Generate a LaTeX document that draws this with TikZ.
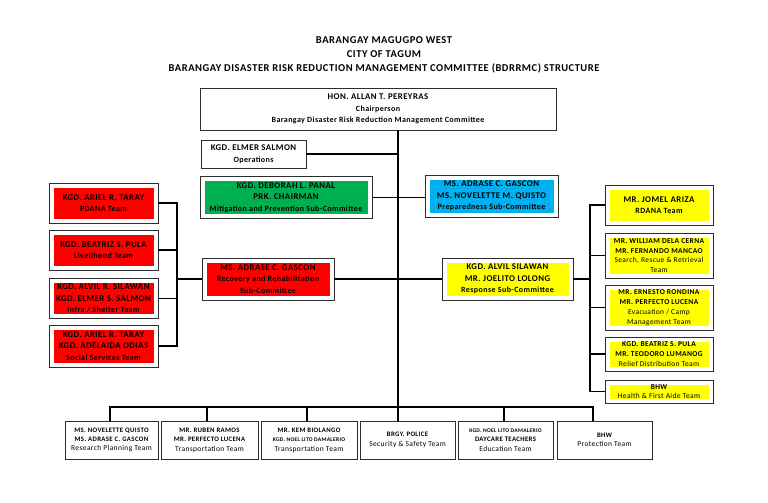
\documentclass[tikz,border=0pt]{standalone}
\usepackage{fontspec}
\setmainfont{Carlito}[LetterSpace=5]
\usetikzlibrary{positioning}
\definecolor{BR}{RGB}{255,0,0}
\definecolor{BG}{RGB}{0,176,80}
\definecolor{BB}{RGB}{0,176,240}
\definecolor{BY}{RGB}{255,255,0}
\definecolor{DG}{RGB}{45,45,45}
\newcommand{\rolesz}{\fontsize{8}{11.5}\selectfont}
\newcommand{\teamsz}{\fontsize{7.5}{9.8}\selectfont\mdseries}
\newcommand{\tinysz}{\fontsize{5.6}{9.4}\selectfont}

\begin{document}
\begin{tikzpicture}[x=1pt, y=-1pt,
  wbox/.style={draw=DG, line width=0.8pt, fill=white, align=center, inner sep=0.5pt,
               font=\fontsize{8.8}{11.5}\selectfont\bfseries},
  cbox/.style={wbox, path picture={
                 \fill[#1] ([shift={(4.5pt,4.5pt)}]path picture bounding box.south west)
                   rectangle ([shift={(-4.5pt,-4.5pt)}]path picture bounding box.north east);}},
  lbox/.style={cbox=BR, minimum width=109pt, minimum height=40pt},
  rbox/.style={cbox=BY, minimum width=108pt,
               font=\fontsize{7.5}{9.8}\selectfont\bfseries},
  bbox/.style={wbox, minimum height=38pt,
               font=\fontsize{6.8}{9.4}\selectfont\bfseries},
  conn/.style={draw=black, line width=1.7pt},
  ttl/.style={align=center, font=\fontsize{10.5}{14}\selectfont\bfseries}
]
\useasboundingbox (0,0) rectangle (768,503);

% Title
\node[ttl] (title) at (384,55) {BARANGAY MAGUGPO WEST\\CITY OF TAGUM\\
  BARANGAY DISASTER RISK REDUCTION MANAGEMENT COMMITTEE (BDRRMC) STRUCTURE};

% Chairperson and operations
\node[wbox, minimum width=356pt, minimum height=42pt] (chair) at (378,109)
  {HON. ALLAN T. PEREYRAS\\\rolesz Chairperson\\\rolesz Barangay Disaster Risk Reduction Management Committee};
\node[wbox, minimum width=105pt, minimum height=28pt] (ops) at (253.5,154)
  {KGD. ELMER SALMON\\\rolesz Operations};

% Sub-committees
\node[cbox=BG, minimum width=172pt, minimum height=42pt] (mitig) at (286,197.5)
  {KGD. DEBORAH L. PANAL\\PRK. CHAIRMAN\\\rolesz Mitigation and Prevention Sub-Committee};
\node[cbox=BB, minimum width=133pt, minimum height=42pt] (prep) at (491.5,196)
  {MS. ADRASE C. GASCON\\MS. NOVELETTE M. QUISTO\\\rolesz Preparedness Sub-Committee};
\node[cbox=BR, minimum width=132pt, minimum height=42pt] (recov) at (268,279)
  {MS. ADRASE C. GASCON\\\rolesz Recovery and Rehabilitation\\\rolesz Sub-Committee};
\node[cbox=BY, minimum width=131pt, minimum height=42pt] (resp) at (507.5,279)
  {KGD. ALVIL SILAWAN\\MR. JOELITO LOLONG\\\rolesz Response Sub-Committee};

% Left teams
\node[lbox] (la) at (103.5,203) {KGD. ARIEL R. TARAY\\\rolesz PDANA Team};
\node[lbox] (lb) at (103.5,250) {KGD. BEATRIZ S. PULA\\\rolesz Livelihood Team};
\node[lbox] (lc) at (103.5,298.5) {KGD. ALVIL R. SILAWAN\\KGD. ELMER S. SALMON\\\rolesz Infra / Shelter Team};
\node[lbox, minimum height=42pt] (ld) at (103.5,346) {KGD. ARIEL R. TARAY\\KGD. ADELAIDA ODIAS\\\rolesz Social Services Team};

% Right teams
\node[rbox, minimum height=40pt, font=\fontsize{8.8}{11.5}\selectfont\bfseries] (ra) at (659,205)
  {MR. JOMEL ARIZA\\\rolesz RDANA Team};
\node[rbox, minimum height=45pt] (rb) at (659,255.5)
  {MR. WILLIAM DELA CERNA\\MR. FERNANDO MANCAO\\\mdseries Search, Rescue \& Retrieval\\\mdseries Team};
\node[rbox, minimum height=45pt] (rc) at (659,307.5)
  {MR. ERNESTO RONDINA\\MR. PERFECTO LUCENA\\\mdseries Evacuation / Camp\\\mdseries Management Team};
\node[rbox, minimum height=34pt] (rd) at (659,354)
  {KGD. BEATRIZ S. PULA\\MR. TEODORO LUMANOG\\\mdseries Relief Distribution Team};
\node[rbox, minimum height=23pt] (re) at (659,391.5) {BHW\\\mdseries Health \& First Aide Team};

% Bottom teams
\node[bbox, minimum width=93pt] (b1) at (111.5,440)
  {MS. NOVELETTE QUISTO\\MS. ADRASE C. GASCON\\\teamsz Research Planning Team};
\node[bbox, minimum width=97pt] (b2) at (209.5,440)
  {MR. RUBEN RAMOS\\MR. PERFECTO LUCENA\\\teamsz Transportation Team};
\node[bbox, minimum width=96pt] (b3) at (309,440)
  {MR. KEM BIOLANGO\\\tinysz KGD. NOEL LITO DAMALERIO\\\teamsz Transportation Team};
\node[bbox, minimum width=95pt] (b4) at (407.5,440)
  {BRGY. POLICE\\\teamsz Security \& Safety Team};
\node[bbox, minimum width=95pt] (b5) at (505.5,440)
  {\tinysz KGD. NOEL LITO DAMALERIO\\DAYCARE TEACHERS\\\teamsz Education Team};
\node[bbox, minimum width=95pt] (b6) at (604.5,440)
  {BHW\\\teamsz Protection Team};

% Connectors
\coordinate (trunk) at ([xshift=20pt]chair.south);
\coordinate (bus) at (398,407);
\coordinate (lbus) at (177,279);
\coordinate (rbus) at (590,279);
\draw[conn] (trunk) -- (bus);
\draw[conn] (ops.east) -- (ops.east -| trunk);
\draw[conn] (mitig.east) -- (mitig.east -| prep.west);
\draw[conn] (recov.east) -- (resp.west);
% left bus
\draw[conn] (la.east) -| (ld.east -| lbus) -- (ld.east);
\draw[conn] (lb.east) -- (lb.east -| lbus);
\draw[conn] (lc.east) -- (lc.east -| lbus);
\draw[conn] (recov.west) -- (lbus);
% right bus
\draw[conn] (ra.west) -| (re.west -| rbus) -- (re.west);
\foreach \n in {rb, rc, rd} \draw[conn] (\n.west) -- (\n.west -| rbus);
\draw[conn] (resp.east) -- (rbus);
% bottom bus
\draw[conn] ([xshift=-1.5pt]b1.north) |- (bus) -| ([xshift=-11.5pt]b6.north);
\draw[conn] (bus) -- (bus |- b4.north);
\foreach \n/\dx in {b2/-2.5, b3/-2, b5/-1.5}
  \draw[conn] ([xshift=\dx pt]\n.north) -- ([xshift=\dx pt]\n.north |- bus);
\end{tikzpicture}
\end{document}
